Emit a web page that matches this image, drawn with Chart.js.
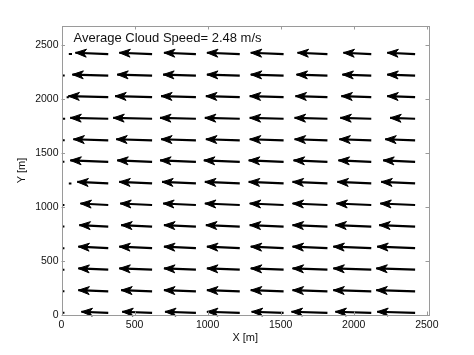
<!DOCTYPE html>
<html><head><meta charset="utf-8">
<script src="https://cdn.jsdelivr.net/npm/chart.js@4"></script>
<style>html,body{margin:0;padding:0;background:#fff;}#wrap{width:474px;height:355px;}</style>
</head><body><div id="wrap"><canvas id="c" width="474" height="355"></canvas></div>
<script>
// Arrow tail positions (m)
const tailX = [320, 620, 920, 1220, 1520, 1820, 2120, 2420];
const rowY = [2420, 2220, 2020, 1820, 1620, 1420, 1220, 1020, 820, 620, 420, 220, 20];
// Leftward displacement of each arrow (m), one list per row (top to bottom)
const arrowU = [
  [225, 225, 219, 225, 225, 205, 191, 191],
  [246, 239, 225, 225, 225, 212, 198, 191],
  [273, 253, 239, 232, 232, 219, 205, 191],
  [260, 266, 246, 239, 232, 225, 212, 171],
  [239, 246, 239, 232, 232, 225, 219, 205],
  [260, 239, 246, 246, 239, 232, 225, 219],
  [212, 225, 232, 239, 239, 239, 232, 232],
  [191, 219, 225, 239, 232, 239, 239, 239],
  [198, 212, 219, 232, 232, 239, 246, 246],
  [205, 225, 219, 225, 225, 239, 260, 260],
  [205, 225, 219, 225, 225, 239, 260, 266],
  [205, 212, 219, 225, 225, 239, 260, 266],
  [184, 205, 212, 225, 219, 246, 246, 260]
];
// Upward displacement per row (m)
const rowV = [12, 10, 10, 8, 10, 14, 14, 14, 14, 14, 12, 10, 10];
// Small marks near the left axis, per row
const dashX0 = [50, 5, 35, 5, 5, 5, 50, 5, 5, 5, 5, 5, 5];
const dashX1 = [72, 22, 50, 25, 22, 20, 68, 20, 20, 20, 20, 20, 20];
const xTicks = [0, 500, 1000, 1500, 2000, 2500];
const yTicks = [0, 500, 1000, 1500, 2000, 2500];
const noteText = 'Average Cloud Speed= 2.48 m/s';
const xTitle = 'X [m]';
const yTitle = 'Y [m]';

const shaftData = [];
rowY.forEach((y, r) => {
  tailX.forEach((x, c) => {
    shaftData.push({x: x, y: y});
    shaftData.push({x: x - arrowU[r][c], y: y + rowV[r]});
    shaftData.push({x: x, y: null});
  });
});
const dashData = [];
rowY.forEach((y, r) => {
  dashData.push({x: dashX0[r], y: y});
  dashData.push({x: dashX1[r], y: y});
  dashData.push({x: dashX1[r], y: null});
});

const FONT = 'Liberation Sans, Arial, Helvetica, sans-serif';

const decor = {
  id: 'decor',
  afterDatasetsDraw(chart) {
    const ctx = chart.ctx;
    const a = chart.chartArea;
    const xs = chart.scales.x, ys = chart.scales.y;
    // arrowheads
    const pts = chart.getDatasetMeta(0).data;
    ctx.save();
    ctx.fillStyle = '#000';
    ctx.strokeStyle = '#000';
    ctx.lineWidth = 1;
    ctx.lineJoin = 'round';
    for (let i = 0; i + 1 < pts.length; i += 3) {
      const p0 = pts[i], p1 = pts[i + 1];
      const dx = p1.x - p0.x, dy = p1.y - p0.y;
      const len = Math.hypot(dx, dy) || 1;
      const ux = dx / len, uy = dy / len;
      const L = 11, W = 4;
      const bx = p1.x - ux * L, by = p1.y - uy * L;
      ctx.beginPath();
      ctx.moveTo(p1.x, p1.y);
      ctx.lineTo(bx - uy * W, by + ux * W);
      ctx.lineTo(p1.x - ux * (L - 3), p1.y - uy * (L - 3));
      ctx.lineTo(bx + uy * W, by - ux * W);
      ctx.closePath();
      ctx.fill();
      ctx.stroke();
    }
    ctx.restore();
    // box and inner ticks
    ctx.save();
    ctx.strokeStyle = '#9a9a9a';
    ctx.lineWidth = 1;
    ctx.strokeRect(Math.round(a.left) + 0.5, Math.round(a.top) + 0.5,
      Math.round(a.right) - Math.round(a.left), Math.round(a.bottom) - Math.round(a.top));
    ctx.beginPath();
    xTicks.forEach(v => {
      const px = Math.round(xs.getPixelForValue(v)) + 0.5;
      ctx.moveTo(px, a.bottom); ctx.lineTo(px, a.bottom - 3.5);
      ctx.moveTo(px, a.top); ctx.lineTo(px, a.top + 3.5);
    });
    yTicks.forEach(v => {
      const py = Math.round(ys.getPixelForValue(v)) + 0.5;
      ctx.moveTo(a.left, py); ctx.lineTo(a.left + 3.5, py);
      ctx.moveTo(a.right, py); ctx.lineTo(a.right - 3.5, py);
    });
    ctx.stroke();
    // annotation
    ctx.fillStyle = '#111';
    ctx.font = '13px ' + FONT;
    ctx.textBaseline = 'middle';
    ctx.textAlign = 'left';
    ctx.fillText(noteText, a.left + 12, a.top + 12);
    ctx.restore();
  }
};

const tickFont = {family: FONT, size: 10.5};
const plainLabel = v => String(v);
new Chart(document.getElementById('c'), {
  type: 'line',
  data: {
    datasets: [
      {data: shaftData, borderColor: '#000', borderWidth: 2.2, pointRadius: 0, spanGaps: false, fill: false, tension: 0},
      {data: dashData, borderColor: '#000', borderWidth: 2, pointRadius: 0, spanGaps: false, fill: false, tension: 0}
    ]
  },
  options: {
    responsive: false,
    animation: false,
    events: [],
    layout: {padding: {left: 0, right: 45, top: 26, bottom: 0}},
    plugins: {legend: {display: false}, tooltip: {enabled: false}},
    scales: {
      x: {
        type: 'linear', min: 0, max: 2515,
        afterBuildTicks: s => { s.ticks = xTicks.map(v => ({value: v})); },
        afterFit: s => { s.height = 40; },
        ticks: {font: tickFont, color: '#111', padding: 4, maxRotation: 0, autoSkip: false, callback: plainLabel},
        grid: {display: false, drawTicks: false},
        border: {display: false},
        title: {display: true, text: xTitle, font: {family: FONT, size: 11}, color: '#111', padding: {top: 0, bottom: 10}}
      },
      y: {
        type: 'linear', min: 0, max: 2680,
        afterBuildTicks: s => { s.ticks = yTicks.map(v => ({value: v})); },
        afterFit: s => { s.width = 61.5; },
        ticks: {font: tickFont, color: '#111', padding: 3, autoSkip: false, callback: plainLabel},
        grid: {display: false, drawTicks: false},
        border: {display: false},
        title: {display: true, text: yTitle, font: {family: FONT, size: 11}, color: '#111', padding: {top: 15, bottom: 0}}
      }
    }
  },
  plugins: [decor]
});
</script>
</body></html>
